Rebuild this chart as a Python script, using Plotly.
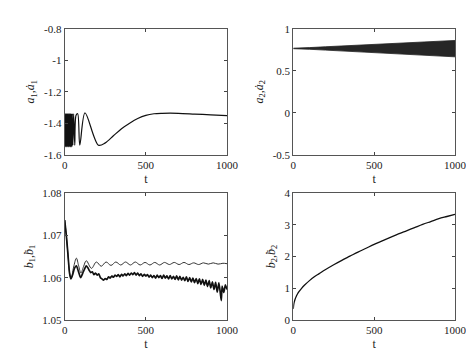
import plotly.graph_objects as go

# ---------------- data ----------------
# a1, a1dot (top-left)
a1_t = [0, 1, 2, 3, 4, 5, 6, 7, 8, 9, 10, 11, 12, 13, 14, 15, 16, 17, 18, 19, 20, 21,
        22, 23, 24, 25, 26, 27, 28, 29, 30, 31, 32, 33, 34, 35, 36, 37, 38, 39, 40,
        42, 44, 47, 50, 55, 62, 70, 80, 93, 125, 208, 250, 300, 350, 400, 450, 500,
        550, 600, 650, 700, 800, 900, 1000]
a1_v = [-1.45, -1.34, -1.55, -1.35, -1.54, -1.34, -1.55, -1.34, -1.54, -1.35, -1.55,
        -1.34, -1.54, -1.34, -1.55, -1.35, -1.54, -1.34, -1.55, -1.34, -1.54, -1.35,
        -1.55, -1.34, -1.54, -1.34, -1.55, -1.35, -1.54, -1.34, -1.55, -1.34, -1.54,
        -1.35, -1.55, -1.34, -1.54, -1.34, -1.55, -1.35, -1.54,
        -1.34, -1.55, -1.34, -1.54, -1.34, -1.54, -1.35, -1.34, -1.54, -1.335, -1.54,
        -1.525, -1.48, -1.435, -1.40, -1.37, -1.35, -1.34, -1.337, -1.336, -1.337,
        -1.342, -1.347, -1.352]

# a2, a2dot (top-right): envelope of the dense oscillation band
a2_t = [0, 50, 100, 200, 300, 400, 500, 600, 700, 800, 900, 1000]
a2_upper = [0.768, 0.770, 0.775, 0.785, 0.795, 0.805, 0.815, 0.825, 0.835, 0.845, 0.852, 0.860]
a2_lower = [0.762, 0.760, 0.755, 0.745, 0.735, 0.725, 0.715, 0.705, 0.695, 0.685, 0.675, 0.665]

# b1 (thin, upper curve, bottom-left)
b1_t = [0, 10, 20, 30, 40, 55, 72, 86, 100, 116, 133, 165, 195, 225, 255, 285, 315, 345,
        375, 405, 435, 465, 495, 525, 555, 585, 615, 645, 675, 705, 735, 765, 795, 825,
        855, 885, 915, 945, 975, 1000]
b1_v = [1.0736, 1.0700, 1.0655, 1.0612, 1.0598, 1.0625, 1.0646, 1.0628, 1.0611, 1.0626,
        1.0640, 1.0622, 1.0637, 1.0627, 1.0637, 1.0629, 1.0637, 1.0630, 1.0637, 1.0630,
        1.0637, 1.0630, 1.0636, 1.0630, 1.0636, 1.0630, 1.0636, 1.0631, 1.0636, 1.0631,
        1.0636, 1.0631, 1.0635, 1.0631, 1.0635, 1.0632, 1.0635, 1.0632, 1.0634, 1.0633]

# b1dot (thick noisy lower curve, bottom-left)
b1d_t = [0, 10, 20, 30, 38, 50, 60, 72, 85, 98, 115, 133, 145,
         150, 160, 170, 180, 190, 200, 210, 220, 230, 240, 250, 260, 270, 280, 290, 300,
         310, 320, 330, 340, 350, 360, 370, 380, 390, 400, 410, 420, 430, 440, 450, 460,
         470, 480, 490, 500, 510, 520, 530, 540, 550, 560, 570, 580, 590, 600, 610, 620,
         630, 640, 650, 660, 670, 680, 690, 700, 710, 720, 730, 740, 750, 760, 770, 780,
         790, 800, 810, 820, 830, 840, 850, 860, 870, 880, 890, 900, 910, 920, 930, 940,
         950, 960, 965, 970, 980, 990, 1000]
b1d_v = [1.0736, 1.0700, 1.0655, 1.0610, 1.0597, 1.0608, 1.0622, 1.0628, 1.0614, 1.0600,
         1.0614, 1.0628, 1.0622,
         1.0618, 1.0612, 1.0614, 1.0607, 1.0611, 1.0606, 1.0609, 1.0600, 1.0597, 1.0594,
         1.0598, 1.0596, 1.0602, 1.0599, 1.0604, 1.0601, 1.0606, 1.0603, 1.0607, 1.0602,
         1.0608, 1.0604, 1.0609, 1.0605, 1.0610, 1.0606, 1.0611, 1.0607, 1.0612, 1.0606,
         1.0611, 1.0605, 1.0609, 1.0603, 1.0608, 1.0604, 1.0607, 1.0601, 1.0606, 1.0600,
         1.0605, 1.0599, 1.0606, 1.0600, 1.0605, 1.0598, 1.0606, 1.0599, 1.0604, 1.0597,
         1.0605, 1.0597, 1.0603, 1.0596, 1.0604, 1.0595, 1.0603, 1.0594, 1.0601, 1.0593,
         1.0602, 1.0591, 1.0600, 1.0590, 1.0599, 1.0588, 1.0598, 1.0586, 1.0597, 1.0584,
         1.0596, 1.0582, 1.0594, 1.0579, 1.0593, 1.0576, 1.0590, 1.0572, 1.0589, 1.0566,
         1.0588, 1.0560, 1.0546, 1.0580, 1.0565, 1.0583, 1.0572]

# b2, b2dot (bottom-right)
b2_t = [0, 2, 5, 10, 18, 25, 35, 50, 70, 100, 130, 160, 200, 250, 300, 350, 400, 450,
        500, 550, 600, 650, 700, 750, 800, 850, 900, 950, 1000]
b2_v = [0.35, 0.46, 0.55, 0.64, 0.74, 0.81, 0.89, 0.99, 1.10, 1.24, 1.36, 1.46, 1.59,
        1.74, 1.88, 2.01, 2.14, 2.26, 2.38, 2.49, 2.60, 2.71, 2.81, 2.91, 3.01, 3.10,
        3.19, 3.26, 3.33]

# tick labels
x_ticks = [0, 500, 1000]
a1_ticks = [-0.8, -1, -1.2, -1.4, -1.6]
a2_ticks = [1, 0.5, 0, -0.5]
b1_ticks = [1.08, 1.07, 1.06, 1.05]
b2_ticks = [4, 3, 2, 1, 0]

# ---------------- figure ----------------
W, H = 474, 355
FONT = "Liberation Serif, Times New Roman, serif"
INK = "#111111"

fig = go.Figure()

fig.add_trace(go.Scatter(x=a1_t, y=a1_v, mode="lines", xaxis="x", yaxis="y",
                         line=dict(color=INK, width=1.2, shape="spline", smoothing=0.9)))

fig.add_trace(go.Scatter(x=a2_t, y=a2_lower, mode="lines", xaxis="x2", yaxis="y2",
                         line=dict(color="#222222", width=0.8)))
fig.add_trace(go.Scatter(x=a2_t, y=a2_upper, mode="lines", xaxis="x2", yaxis="y2",
                         fill="tonexty", fillcolor="#262626",
                         line=dict(color="#222222", width=0.8)))

fig.add_trace(go.Scatter(x=b1_t, y=b1_v, mode="lines", xaxis="x3", yaxis="y3",
                         line=dict(color="#333333", width=1.0, shape="spline", smoothing=1)))
fig.add_trace(go.Scatter(x=b1d_t, y=b1d_v, mode="lines", xaxis="x3", yaxis="y3",
                         line=dict(color=INK, width=1.7, shape="spline", smoothing=0.6)))

fig.add_trace(go.Scatter(x=b2_t, y=b2_v, mode="lines", xaxis="x4", yaxis="y4",
                         line=dict(color=INK, width=1.3, shape="spline", smoothing=1)))

L = [56.7 / W, 219 / W]
R = [285.3 / W, 447 / W]
T = [1 - 146.7 / H, 1 - 20.7 / H]
B = [1 - 312 / H, 1 - 185 / H]

tickfont = dict(family=FONT, size=11, color="#222")
titlefont = dict(family=FONT, size=12, color="#222")


def xax(domain, anchor):
    return dict(domain=domain, anchor=anchor, range=[0, 1000], tickvals=x_ticks,
                ticks="inside", ticklen=3, tickcolor="#444", showline=True,
                linecolor="#555", linewidth=1, mirror="ticks", showgrid=False,
                zeroline=False, tickfont=tickfont, automargin=False,
                title=dict(text="t", font=titlefont, standoff=4))


def yax(domain, anchor, rng, vals, title):
    return dict(domain=domain, anchor=anchor, range=rng, tickvals=vals,
                ticktext=[("%g" % v) for v in vals],
                ticks="inside", ticklen=3, tickcolor="#444", showline=True,
                linecolor="#555", linewidth=1, mirror="ticks", showgrid=False,
                zeroline=False, tickfont=tickfont, automargin=False,
                title=dict(text=title, font=titlefont, standoff=6))


fig.update_layout(
    width=W, height=H, showlegend=False,
    margin=dict(l=0, r=0, t=0, b=0),
    paper_bgcolor="white", plot_bgcolor="white",
    xaxis=xax(L, "y"), yaxis=yax(T, "x", [-1.6, -0.8], a1_ticks,
                                 "<i>a</i><sub>1</sub>,<i>ȧ</i><sub>1</sub>"),
    xaxis2=xax(R, "y2"), yaxis2=yax(T, "x2", [-0.5, 1], a2_ticks,
                                    "<i>a</i><sub>2</sub>,<i>ȧ</i><sub>2</sub>"),
    xaxis3=xax(L, "y3"), yaxis3=yax(B, "x3", [1.05, 1.08], b1_ticks,
                                    "<i>b</i><sub>1</sub>,<i>ḃ</i><sub>1</sub>"),
    xaxis4=xax(R, "y4"), yaxis4=yax(B, "x4", [0, 4], b2_ticks,
                                    "<i>b</i><sub>2</sub>,<i>ḃ</i><sub>2</sub>"),
    font=dict(family=FONT),
)

fig.write_html("out.html")
